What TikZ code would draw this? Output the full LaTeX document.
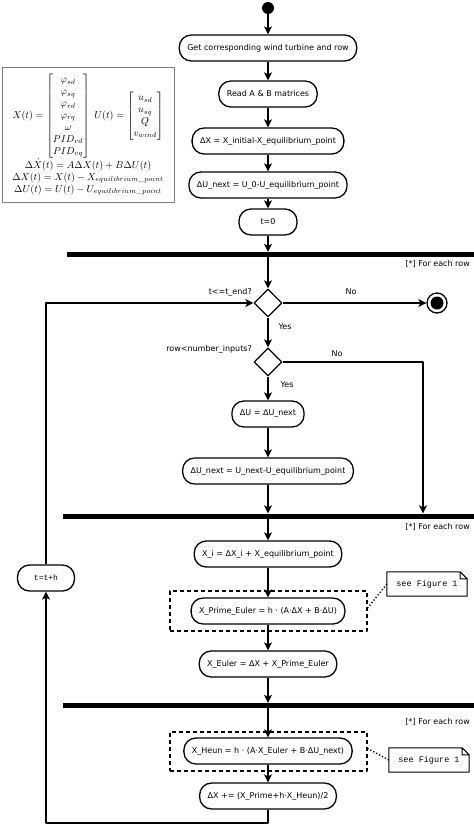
\documentclass[tikz,border=0pt]{standalone}
\usepackage{amsmath}
\usepackage{fontspec}
\usetikzlibrary{arrows.meta,shapes.geometric}
\newfontfamily\flowfont{DejaVu Sans}
\newfontfamily\notefont{Liberation Mono}
\definecolor{eqgray}{HTML}{7F7F7F}

\tikzset{
  act/.style={draw, line width=1.3pt, rounded corners=12pt, minimum height=26pt,
    inner xsep=8pt, inner ysep=0pt, font={\flowfont\fontsize{8}{9}\selectfont}},
  decide/.style={diamond, draw, line width=1.3pt, minimum width=28pt, minimum height=28pt, inner sep=0pt},
  bar/.style={fill=black, minimum height=5pt, inner sep=0pt},
  lbl/.style={inner sep=0pt, font={\flowfont\fontsize{8}{9}\selectfont}},
  flow/.style={line width=1.3pt, -{Stealth[length=8pt,width=8pt,inset=2pt]}},
  group/.style={draw, dashed, line width=1.3pt, dash pattern=on 4pt off 3pt, inner sep=0pt},
  note/.style={inner sep=0pt, minimum width=80pt, minimum height=24pt, font={\notefont\fontsize{8.5}{9}\selectfont}},
}

\begin{document}
\begin{tikzpicture}[x=1pt,y=-1pt,line join=round]
  \useasboundingbox (0,0) rectangle (474,825);

  % equations
  \node[draw=eqgray, line width=1pt, minimum width=172pt, minimum height=135pt, align=center,
    inner sep=0pt, font={\fontsize{10.3}{11.9}\selectfont}] (eqs) at (88,134.5)
    {$X(t)=\begin{bmatrix}\varphi_{sd}\\ \varphi_{sq}\\ \varphi_{rd}\\ \varphi_{rq}\\ \omega\\ PID_{vd}\\ PID_{vq}\end{bmatrix}
      \; U(t)=\begin{bmatrix}u_{sd}\\ u_{sq}\\ Q\\ v_{wind}\end{bmatrix}$\\
     $\Delta\dot{X}(t)=A\Delta X(t)+B\Delta U(t)$\\
     $\Delta X(t)=X(t)-X_{equilibrium\_point}$\\
     $\Delta U(t)=U(t)-U_{equilibrium\_point}$};

  % initialisation
  \node[circle, fill=black, minimum size=12pt, inner sep=0pt] (start) at (268,8) {};
  \node[act] (get) at (268,48) {Get corresponding wind turbine and row};
  \node[act] (read) at (268,94) {Read A \& B matrices};
  \node[act] (dx0) at (268,141) {ΔX = X\_initial-X\_equilibrium\_point};
  \node[act] (du0) at (268,185) {ΔU\_next = U\_0-U\_equilibrium\_point};
  \node[act, minimum width=58pt] (tzero) at (268,222) {t=0};
  \node[bar, minimum width=407pt] (fork1) at (270.5,254.5) {};
  \node[lbl, anchor=east] (each1) at (470,264) {[*] For each row};

  % time loop
  \node[decide] (dec1) at (268,303) {};
  \node[lbl, anchor=east] (cond1) at (252,292) {t<=t\_end?};
  \node[circle, draw, line width=1.3pt, minimum size=20pt, inner sep=0pt] (stop) at (437,303) {};
  \fill (stop) circle (6.5pt);
  \node[lbl] (no1) at (351,292) {No};
  \node[lbl] (yes1) at (285,327) {Yes};
  \node[decide] (dec2) at (268,362) {};
  \node[lbl, anchor=east] (cond2) at (252,349) {row<number\_inputs?};
  \node[lbl] (no2) at (337,354) {No};
  \node[lbl] (yes2) at (287,385) {Yes};
  \coordinate (skip) at (423,362);
  \node[act] (du) at (268,414) {ΔU = ΔU\_next};
  \node[act] (dunext) at (268,471) {ΔU\_next = U\_next-U\_equilibrium\_point};
  \node[bar, minimum width=411pt] (fork2) at (268.5,516) {};
  \node[lbl, anchor=east] (each2) at (470,527) {[*] For each row};

  % Heun step
  \node[act] (xi) at (268,554) {X\_i = ΔX\_i + X\_equilibrium\_point};
  \node[group, minimum width=197pt, minimum height=40pt] (grp1) at (268.5,611) {};
  \node[act] (euler) at (268,611) {X\_Prime\_Euler = h · (A·ΔX + B·ΔU)};
  \node[note] (note1) at (427,584) {see Figure 1};
  \node[act] (xeuler) at (268,664) {X\_Euler = ΔX + X\_Prime\_Euler};
  \node[bar, minimum width=411pt] (fork3) at (268.5,705.5) {};
  \node[lbl, anchor=east] (each3) at (470,722) {[*] For each row};
  \node[group, minimum width=197pt, minimum height=39pt] (grp2) at (268.5,751.5) {};
  \node[act] (heun) at (268,751) {X\_Heun = h · (A·X\_Euler + B·ΔU\_next)};
  \node[note] (note2) at (429,760) {see Figure 1};
  \node[act] (upd) at (268,796) {ΔX += (X\_Prime+h·X\_Heun)/2};
  \node[act, minimum width=57pt, font={\notefont\fontsize{8}{9}\selectfont}] (tth) at (46,578) {t=t+h};
  \coordinate (back) at (46,823);

  \foreach \n in {note1,note2}
    \draw[line width=1pt] (\n.north west) -- ([xshift=-7pt]\n.north east) -- ([yshift=-7pt]\n.north east)
      -- (\n.south east) -- (\n.south west) -- cycle
      ([xshift=-7pt]\n.north east) |- ([yshift=-7pt]\n.north east);
  \draw[dotted, line width=1.3pt] (note1.west) -- ([yshift=3pt]grp1.east);
  \draw[dotted, line width=1.3pt] (note2.west) -- ([yshift=3pt]grp2.east);

  \draw[flow] (start) -- (get);
  \draw[flow] (get) -- (read);
  \draw[flow] (read) -- (dx0);
  \draw[flow] (dx0) -- (du0);
  \draw[flow] (du0) -- (tzero);
  \draw[flow] (tzero) -- (fork1.north -| tzero);
  \draw[flow] (fork1.south -| dec1) -- (dec1);
  \draw[flow] (dec1) -- (stop);
  \draw[flow] (dec1) -- (dec2);
  \draw[flow] (dec2.east) -- (skip) -- (skip |- fork2.north);
  \draw[flow] (dec2) -- (du);
  \draw[flow] (du) -- (dunext);
  \draw[flow] (dunext) -- (fork2.north -| dunext);
  \draw[flow] (fork2.south -| xi) -- (xi);
  \draw[flow] (xi) -- (euler);
  \draw[flow] (euler) -- (xeuler);
  \draw[flow] (xeuler) -- (fork3.north -| xeuler);
  \draw[flow] (fork3.south -| heun) -- (heun);
  \draw[flow] (heun) -- (upd);
  \draw[flow] (upd.south) |- (back) -- (tth.south);
  \draw[flow] (tth.north) |- (dec1.west);
\end{tikzpicture}
\end{document}
